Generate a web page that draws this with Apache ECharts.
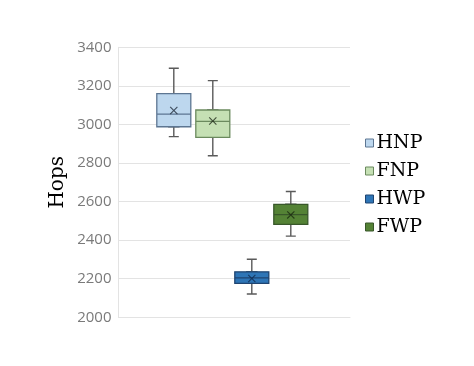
<!DOCTYPE html>
<html>
<head>
<meta charset="utf-8">
<script src="https://cdn.jsdelivr.net/npm/echarts@6/dist/echarts.min.js"></script>
<style>
html,body{margin:0;padding:0;background:#fff;}
#chart{width:474px;height:366px;}
</style>
</head>
<body>
<div id="chart"></div>
<script>
// ---- data ----
var seriesNames = ['HNP', 'FNP', 'HWP', 'FWP'];
// [min, Q1, median, Q3, max]
var HNP = [2937, 2988, 3054, 3160, 3291];
var FNP = [2838, 2933, 3016, 3075, 3227];
var HWP = [2121, 2176, 2204, 2236, 2301];
var FWP = [2421, 2482, 2532, 2586, 2652];
var means = [3072, 3018, 2201, 2531];
var yTicks = [2000, 2200, 2400, 2600, 2800, 3000, 3200, 3400];

(function () {
var boxData = [HNP, FNP, HWP, FWP];
var fills = ['#bdd7ee', '#c5e0b4', '#2e75b6', '#548235'];
var borders = ['#5d7692', '#6b8a5e', '#1f4470', '#38572a'];
var meanColors = ['#1f2a3a', '#1f2a1a', '#0f2a50', '#1a2a10'];

var yMin = yTicks[0], yMax = yTicks[yTicks.length - 1];
var gTop = 47.3, gBottom = 366 - 317.3;
var centers = [173.8, 212.8, 251.8, 290.8];
var band = 39;

var grids = [{left: 118.5, right: 474 - 350, top: gTop, bottom: gBottom}];
var xAxes = [{gridIndex: 0, type: 'category', data: [''], axisLine: {show: true, lineStyle: {color: '#e3e3e3'}}, axisTick: {show: false}, axisLabel: {show: false}}];
var yAxes = [{
  gridIndex: 0, type: 'value', min: yMin, max: yMax, interval: 200,
  name: 'Hops', nameLocation: 'middle', nameGap: 51,
  nameTextStyle: {fontFamily: 'DejaVu Serif', fontSize: 20, color: '#000'},
  axisLine: {show: true, lineStyle: {color: '#e3e3e3'}},
  axisTick: {show: false},
  axisLabel: {color: '#7a7a7a', fontSize: 15, fontFamily: 'Open Sans', margin: 7, formatter: function (v) { return String(v); }},
  splitLine: {lineStyle: {color: '#e3e3e3', width: 1}}
}];
var series = [];
var legendData = [];
for (var i = 0; i < 4; i++) {
  var d = boxData[i];
  // grid for the box (no whiskers)
  grids.push({left: centers[i] - band / 2, width: band, top: gTop, bottom: gBottom});
  xAxes.push({gridIndex: i + 1, type: 'category', data: [seriesNames[i]], show: false});
  yAxes.push({gridIndex: i + 1, type: 'value', min: yMin, max: yMax, show: false});
  series.push({
    name: seriesNames[i], type: 'boxplot', xAxisIndex: i + 1, yAxisIndex: i + 1,
    boxWidth: [34, 34],
    data: [[d[1], d[1], d[2], d[3], d[3]]],
    itemStyle: {color: fills[i], borderColor: borders[i], borderWidth: 1.3},
    emphasis: {disabled: true},
    silent: true, z: 3
  });
  series.push({
    name: seriesNames[i] + ' mean', type: 'scatter', xAxisIndex: i + 1, yAxisIndex: i + 1,
    symbol: 'path://M1,0L5,4L9,0L10,1L6,5L10,9L9,10L5,6L1,10L0,9L4,5L0,1Z',
    symbolSize: 8,
    data: [means[i]],
    itemStyle: {color: meanColors[i]},
    silent: true, z: 5
  });
  legendData.push({name: seriesNames[i], itemStyle: {color: fills[i], borderColor: borders[i], borderWidth: 1}});
}
// separate grids for narrow whiskers, drawn beneath the boxes
for (var j = 0; j < 4; j++) {
  var e = boxData[j];
  var gi = grids.length;
  grids.push({left: centers[j] - band / 2, width: band, top: gTop, bottom: gBottom});
  xAxes.push({gridIndex: gi, type: 'category', data: [seriesNames[j]], show: false});
  yAxes.push({gridIndex: gi, type: 'value', min: yMin, max: yMax, show: false});
  series.push({
    name: seriesNames[j] + ' whisker', type: 'boxplot', xAxisIndex: xAxes.length - 1, yAxisIndex: yAxes.length - 1,
    boxWidth: [10, 10],
    data: [e],
    itemStyle: {color: '#ffffff', borderColor: '#5a5a5a', borderWidth: 1.4},
    emphasis: {disabled: true},
    silent: true, z: 2
  });
}

var chart = echarts.init(document.getElementById('chart'), null, {renderer: 'canvas'});
chart.setOption({
  animation: false,
  backgroundColor: '#fff',
  grid: grids,
  xAxis: xAxes,
  yAxis: yAxes,
  legend: {
    data: legendData,
    orient: 'vertical',
    left: 360, top: 127,
    icon: 'rect', itemWidth: 8, itemHeight: 8, itemGap: 6,
    textStyle: {fontFamily: 'DejaVu Serif', fontSize: 19, color: '#000', padding: [0, 0, 0, -2], lineHeight: 22},
    selectedMode: false
  },
  series: series
});
})();
</script>
</body>
</html>
